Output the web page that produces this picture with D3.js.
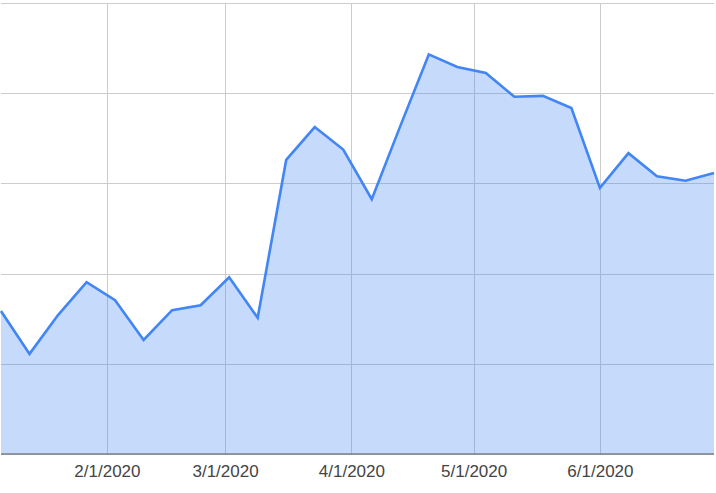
<!DOCTYPE html>
<html>
<head>
<meta charset="utf-8">
<script src="https://cdn.jsdelivr.net/npm/d3@7"></script>
<style>
  html, body { margin: 0; padding: 0; background: #fff; }
  svg { display: block; }
  .grid line { stroke: #cccccc; stroke-width: 1; }
  .grid path { display: none; }
  .xaxis text { font-family: Arial, "Liberation Sans", sans-serif; font-size: 17px; fill: #444; }
  .xaxis path, .xaxis line { display: none; }
</style>
</head>
<body>
<svg id="chart"></svg>
<script>
  // weekly points, Monday dates
  const weeks = [
    '2020-01-06', '2020-01-13', '2020-01-20', '2020-01-27',
    '2020-02-03', '2020-02-10', '2020-02-17', '2020-02-24',
    '2020-03-02', '2020-03-09', '2020-03-16', '2020-03-23', '2020-03-30',
    '2020-04-06', '2020-04-13', '2020-04-20', '2020-04-27',
    '2020-05-04', '2020-05-11', '2020-05-18', '2020-05-25',
    '2020-06-01', '2020-06-08', '2020-06-15', '2020-06-22', '2020-06-29'
  ];
  const values = [
    31.7, 22.2, 30.8, 38.1,
    34.1, 25.3, 31.9, 33.0,
    39.2, 30.2, 65.2, 72.5, 67.5,
    56.5, 72.7, 88.6, 85.8,
    84.5, 79.2, 79.4, 76.7,
    59.0, 66.7, 61.6, 60.6, 62.3
  ];
  const monthTicks = ['2020-02-01', '2020-03-01', '2020-04-01', '2020-05-01', '2020-06-01'];
  const yTicks = [0, 20, 40, 60, 80, 100];

  const width = 716, height = 493;
  const mLeft = 1, mRight = 714, mTop = 3, mBottom = 454;

  const parse = d3.timeParse('%Y-%m-%d');
  const data = weeks.map((w, i) => ({ date: parse(w), value: values[i] }));

  const x = d3.scaleTime()
    .domain(d3.extent(data, d => d.date))
    .range([mLeft, mRight]);
  const y = d3.scaleLinear()
    .domain([0, 100])
    .range([mBottom, mTop]);

  const svg = d3.select('#chart')
    .attr('width', width)
    .attr('height', height);

  // horizontal gridlines
  svg.append('g')
    .attr('class', 'grid')
    .attr('transform', `translate(${mLeft},0)`)
    .call(d3.axisLeft(y).tickValues(yTicks).tickSize(-(mRight - mLeft)).tickFormat(''))
    .call(g => g.selectAll('line').attr('shape-rendering', 'crispEdges'));

  // vertical gridlines at month starts
  const ticks = monthTicks.map(parse);
  svg.append('g')
    .attr('class', 'grid')
    .attr('transform', `translate(0,${mBottom})`)
    .call(d3.axisBottom(x).tickValues(ticks).tickSize(-(mBottom - mTop)).tickFormat(''))
    .call(g => g.selectAll('line').attr('shape-rendering', 'crispEdges'));

  const area = d3.area()
    .x(d => x(d.date))
    .y0(y(0))
    .y1(d => y(d.value));

  const line = d3.line()
    .x(d => x(d.date))
    .y(d => y(d.value));

  svg.append('path')
    .datum(data)
    .attr('d', area)
    .attr('fill', '#4285f4')
    .attr('fill-opacity', 0.3);

  // baseline
  svg.append('line')
    .attr('x1', mLeft).attr('x2', mRight)
    .attr('y1', y(0)).attr('y2', y(0))
    .attr('stroke', '#555')
    .attr('stroke-width', 1.2);

  svg.append('path')
    .datum(data)
    .attr('d', line)
    .attr('fill', 'none')
    .attr('stroke', '#4285f4')
    .attr('stroke-width', 2.6)
    .attr('stroke-linejoin', 'miter');

  // month labels
  svg.append('g')
    .attr('class', 'xaxis')
    .attr('transform', `translate(0,${mBottom})`)
    .call(d3.axisBottom(x).tickValues(ticks).tickSize(0).tickPadding(11)
      .tickFormat(d3.timeFormat('%-m/%-d/%Y')));
</script>
</body>
</html>
